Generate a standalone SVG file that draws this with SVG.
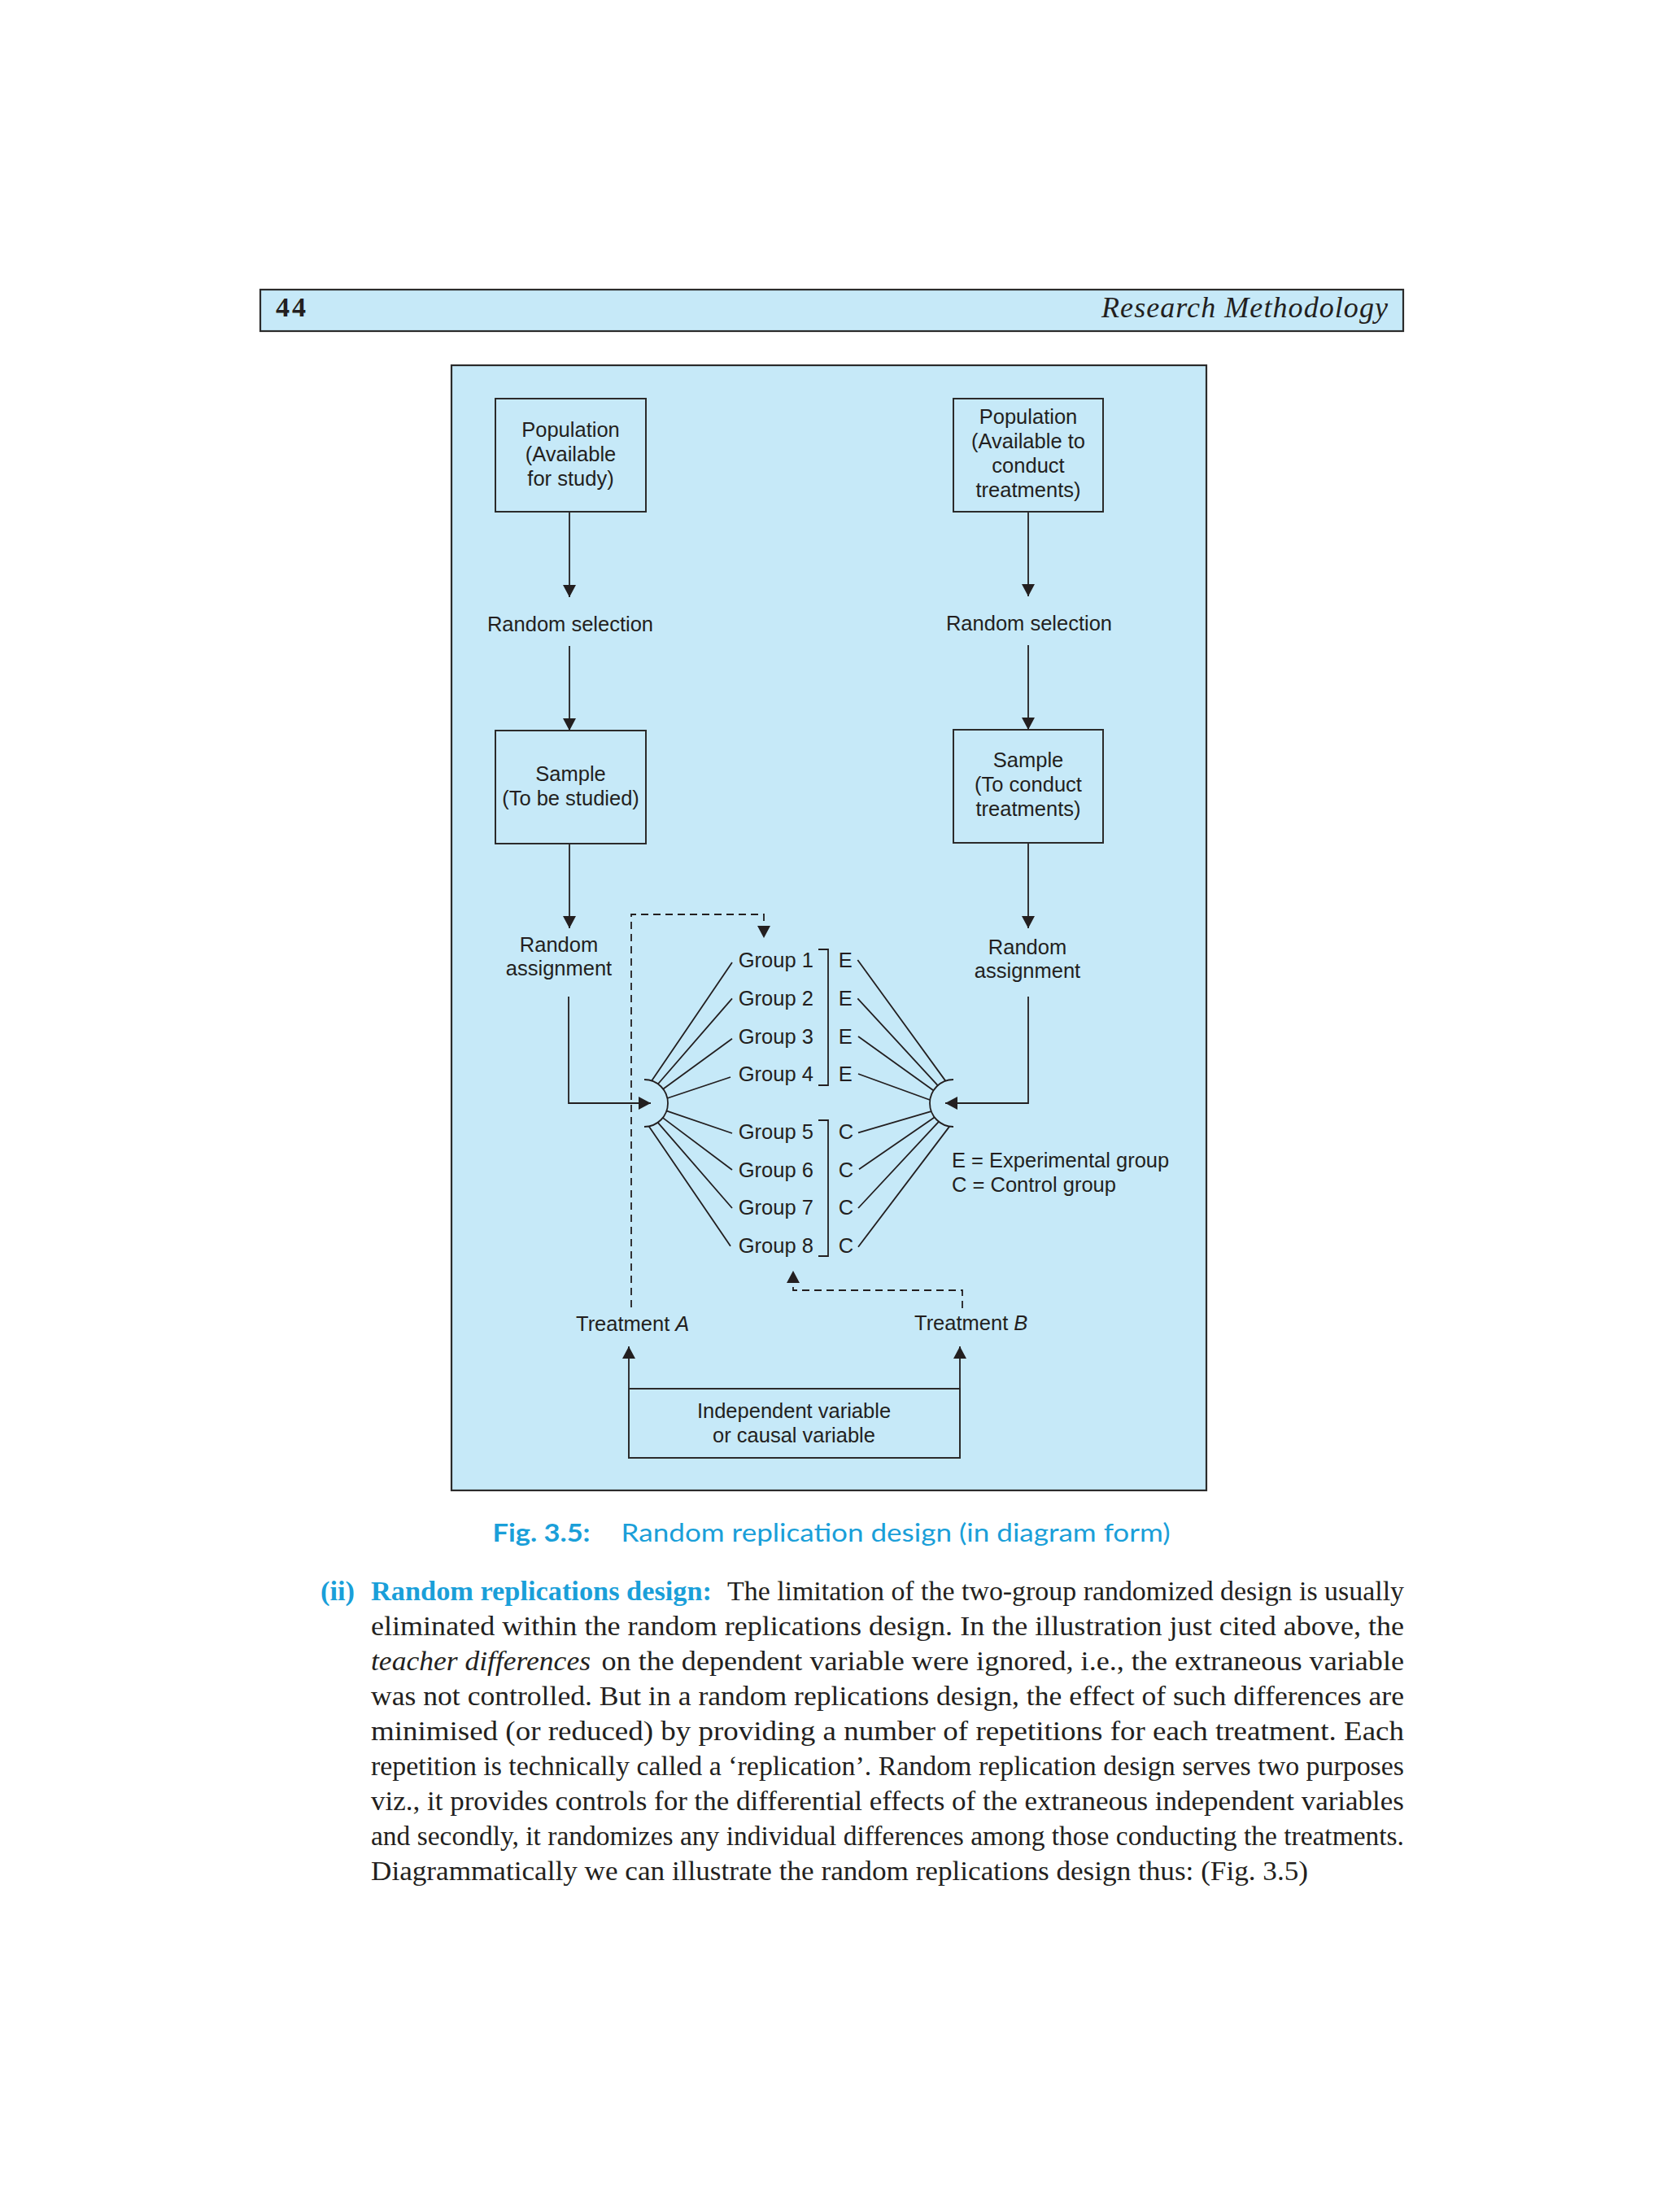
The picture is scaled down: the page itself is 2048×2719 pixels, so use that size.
<svg xmlns="http://www.w3.org/2000/svg" width="2048" height="2719" viewBox="0 0 2048 2719">
<style>
.bg{fill:#c6e9f8;stroke:#2b2b2b;stroke-width:2.2}
.box{fill:#c6e9f8;stroke:#2b2b2b;stroke-width:2}
.t{font-family:"Liberation Sans",Arial,sans-serif;font-size:25.5px;fill:#231f20}
.c{text-anchor:middle}
.ln{fill:none;stroke:#231f20;stroke-width:1.8}
.ar{fill:none;stroke:#231f20;stroke-width:1.8;marker-end:url(#ah)}
.ds{fill:none;stroke:#231f20;stroke-width:1.8;stroke-dasharray:9 6}
.dsa{fill:none;stroke:#231f20;stroke-width:1.8;stroke-dasharray:9 6;marker-end:url(#ah)}
.p{font-family:"Liberation Serif","Times New Roman",serif;font-size:34px;fill:#231f20}
.cy{fill:#1a9fd9}
.cap{font-family:Lato,"Open Sans",sans-serif;font-size:30px;fill:#1a9fd9}
</style>
<defs>
<marker id="ah" viewBox="0 0 16 16" refX="15" refY="8" markerWidth="16" markerHeight="16" markerUnits="userSpaceOnUse" orient="auto">
<path d="M0,0 L15,8 L0,16 Z" fill="#231f20" stroke="none"/>
</marker>
</defs>
<rect width="2048" height="2719" fill="#ffffff"/>
<g id="header">
<rect x="320" y="356" width="1405" height="51" class="bg"/>
<text x="339" y="389" font-family="Liberation Serif,serif" font-weight="bold" font-size="34" letter-spacing="3" fill="#231f20">44</text>
<text x="1354" y="390" font-family="Liberation Serif,serif" font-style="italic" font-size="36" fill="#231f20" textLength="352" lengthAdjust="spacing">Research Methodology</text>
</g>
<g id="frame">
<rect x="555" y="449" width="928" height="1383" class="bg"/>
</g>
<g id="connectors">
<path class="ar" d="M700 629 V734"/>
<path class="ar" d="M700 794 V898"/>
<path class="ar" d="M700 1037 V1141"/>
<path class="ar" d="M1264 629 V733"/>
<path class="ar" d="M1264 793 V897"/>
<path class="ar" d="M1264 1036 V1141"/>
<path class="ar" d="M699 1225 V1356 H800"/>
<path class="ar" d="M1264 1225 V1356 H1162"/>
<path class="dsa" d="M776 1607 V1124 H939 V1153"/>
<path class="dsa" d="M1183 1608 V1586 H975 V1562"/>
<path class="ar" d="M773 1707 V1655"/>
<path class="ar" d="M1180 1707 V1655"/>
<path class="ln" d="M792 1327 A29 29 0 0 1 792 1385"/>
<path class="ln" d="M1172 1327 A29 29 0 0 0 1172 1385"/>
<path class="ln" d="M900 1183 L801.1 1328.6 M900 1227.3 L808.8 1332.5 M900 1276.7 L815 1338.7 M898 1324 L820.1 1350 M900 1393 L819.1 1365.4 M900 1438 L814.6 1373.9 M900 1485 L808.5 1379.6 M898 1531.7 L797.7 1384.4"/>
<path class="ln" d="M1054.3 1180 L1162.3 1328.6 M1054.3 1227.3 L1152.7 1334.1 M1055 1274 L1147.3 1340.3 M1055 1320 L1143 1352 M1055 1392.3 L1144.6 1366.2 M1056 1437.3 L1148.6 1373.6 M1055 1485 L1153.9 1378.9 M1055 1532.7 L1167.2 1384.6"/>
<path class="ln" d="M1006 1167 H1018 V1334 H1006"/>
<path class="ln" d="M1006 1377 H1018 V1544 H1006"/>
</g>
<g id="pop-study">
<rect x="609" y="490" width="185" height="139" class="box"/>
<text class="t c" x="701.5" y="537">Population</text>
<text class="t c" x="701.5" y="567">(Available</text>
<text class="t c" x="701.5" y="597">for study)</text>
</g>
<g id="pop-treat">
<rect x="1172" y="490" width="184" height="139" class="box"/>
<text class="t c" x="1264" y="521">Population</text>
<text class="t c" x="1264" y="551">(Available to</text>
<text class="t c" x="1264" y="581">conduct</text>
<text class="t c" x="1264" y="611">treatments)</text>
</g>
<g id="sel-left"><text class="t c" x="701" y="776">Random selection</text></g>
<g id="sel-right"><text class="t c" x="1265" y="775">Random selection</text></g>
<g id="sample-study">
<rect x="609" y="898" width="185" height="139" class="box"/>
<text class="t c" x="701.5" y="960">Sample</text>
<text class="t c" x="701.5" y="990">(To be studied)</text>
</g>
<g id="sample-treat">
<rect x="1172" y="897" width="184" height="139" class="box"/>
<text class="t c" x="1264" y="943">Sample</text>
<text class="t c" x="1264" y="973">(To conduct</text>
<text class="t c" x="1264" y="1003">treatments)</text>
</g>
<g id="assign-left">
<text class="t c" x="687" y="1170">Random</text>
<text class="t c" x="687" y="1199">assignment</text>
</g>
<g id="assign-right">
<text class="t c" x="1263" y="1173">Random</text>
<text class="t c" x="1263" y="1202">assignment</text>
</g>
<g id="groups">
<text class="t" x="907.7" y="1189">Group 1</text>
<text class="t" x="907.7" y="1236">Group 2</text>
<text class="t" x="907.7" y="1283">Group 3</text>
<text class="t" x="907.7" y="1329">Group 4</text>
<text class="t" x="907.7" y="1400">Group 5</text>
<text class="t" x="907.7" y="1447">Group 6</text>
<text class="t" x="907.7" y="1493">Group 7</text>
<text class="t" x="907.7" y="1540">Group 8</text>
<text class="t" x="1030.7" y="1189">E</text>
<text class="t" x="1030.7" y="1236">E</text>
<text class="t" x="1030.7" y="1283">E</text>
<text class="t" x="1030.7" y="1329">E</text>
<text class="t" x="1030.7" y="1400">C</text>
<text class="t" x="1030.7" y="1447">C</text>
<text class="t" x="1030.7" y="1493">C</text>
<text class="t" x="1030.7" y="1540">C</text>
</g>
<g id="legend">
<text class="t" x="1170" y="1435">E = Experimental group</text>
<text class="t" x="1170" y="1465">C = Control group</text>
</g>
<g id="treat-a"><text class="t" x="708" y="1636">Treatment <tspan font-style="italic">A</tspan></text></g>
<g id="treat-b"><text class="t" x="1124" y="1635">Treatment <tspan font-style="italic">B</tspan></text></g>
<g id="indep">
<rect x="773" y="1707" width="407" height="85" class="box"/>
<text class="t c" x="976" y="1743">Independent variable</text>
<text class="t c" x="976" y="1773">or causal variable</text>
</g>
<g id="caption">
<text class="cap" x="605.5" y="1895" font-weight="bold" textLength="120" lengthAdjust="spacingAndGlyphs">Fig. 3.5:</text>
<text class="cap" x="763.6" y="1895" textLength="675" lengthAdjust="spacingAndGlyphs">Random replication design (in diagram form)</text>
</g>
<g id="paragraph">
<text class="p cy" x="394" y="1967" font-weight="bold" textLength="42" lengthAdjust="spacingAndGlyphs">(ii)</text>
<text class="p cy" x="456" y="1967" font-weight="bold" textLength="419" lengthAdjust="spacingAndGlyphs">Random replications design:</text>
<text class="p" x="894" y="1967" textLength="832" lengthAdjust="spacingAndGlyphs">The limitation of the two-group randomized design is usually</text>
<text class="p" x="456" y="2010" textLength="1270" lengthAdjust="spacingAndGlyphs">eliminated within the random replications design. In the illustration just cited above, the</text>
<text class="p" x="456" y="2053" font-style="italic" textLength="270" lengthAdjust="spacingAndGlyphs">teacher differences</text>
<text class="p" x="739.5" y="2053" textLength="986.5" lengthAdjust="spacingAndGlyphs">on the dependent variable were ignored, i.e., the extraneous variable</text>
<text class="p" x="456" y="2096" textLength="1270" lengthAdjust="spacingAndGlyphs">was not controlled. But in a random replications design, the effect of such differences are</text>
<text class="p" x="456" y="2139" textLength="1270" lengthAdjust="spacingAndGlyphs">minimised (or reduced) by providing a number of repetitions for each treatment. Each</text>
<text class="p" x="456" y="2182" textLength="1270" lengthAdjust="spacingAndGlyphs">repetition is technically called a ‘replication’. Random replication design serves two purposes</text>
<text class="p" x="456" y="2225" textLength="1270" lengthAdjust="spacingAndGlyphs">viz., it provides controls for the differential effects of the extraneous independent variables</text>
<text class="p" x="456" y="2268" textLength="1270" lengthAdjust="spacingAndGlyphs">and secondly, it randomizes any individual differences among those conducting the treatments.</text>
<text class="p" x="456" y="2311" textLength="1152" lengthAdjust="spacingAndGlyphs">Diagrammatically we can illustrate the random replications design thus: (Fig. 3.5)</text>
</g>
</svg>
